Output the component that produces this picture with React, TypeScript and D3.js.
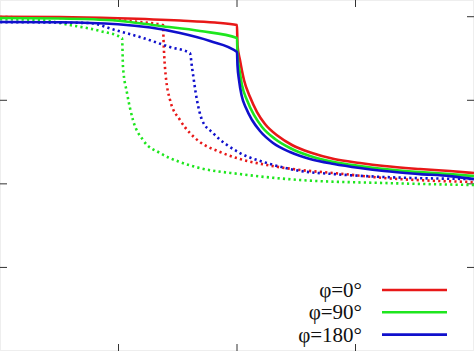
import React from 'react';
import * as d3 from 'd3';

// chart values (x in tick units, y in tick units)
const xTicks = [1, 2, 3];
const yTicks = [0, 1, 2, 3];

const redSolid: [number, number][] = [
  [0, 3.0], [0.506, 2.996], [0.996, 2.981], [1.519, 2.954], [1.814, 2.93], [2.0, 2.9],
  [2.004, 2.661], [2.025, 2.482], [2.059, 2.243], [2.11, 2.039], [2.169, 1.859], [2.236, 1.716],
  [2.346, 1.572], [2.464, 1.465], [2.633, 1.369], [2.819, 1.297], [3.038, 1.249], [3.241, 1.213],
  [3.544, 1.177], [3.797, 1.153], [4.0, 1.129],
];
const greenSolid: [number, number][] = [
  [0, 2.984], [0.506, 2.978], [0.996, 2.952], [1.35, 2.889], [1.688, 2.829], [2.0, 2.745],
  [2.004, 2.542], [2.021, 2.362], [2.042, 2.183], [2.084, 2.003], [2.143, 1.824], [2.211, 1.681],
  [2.321, 1.537], [2.447, 1.429], [2.616, 1.333], [2.819, 1.261], [3.038, 1.213], [3.241, 1.177],
  [3.544, 1.141], [3.797, 1.117], [4.0, 1.093],
];
const blueSolid: [number, number][] = [
  [0, 2.936], [0.506, 2.933], [0.996, 2.909], [1.519, 2.805], [1.772, 2.709], [2.0, 2.577],
  [2.004, 2.42], [2.017, 2.243], [2.038, 2.063], [2.076, 1.907], [2.127, 1.764], [2.194, 1.632],
  [2.304, 1.489], [2.447, 1.381], [2.616, 1.297], [2.819, 1.237], [3.038, 1.189], [3.241, 1.153],
  [3.544, 1.117], [3.797, 1.093], [4.0, 1.057],
];
const redDotted: [number, number][] = [
  [0, 2.996], [0.844, 2.972], [1.181, 2.936], [1.376, 2.9], [1.38, 2.721], [1.392, 2.398],
  [1.435, 2.003], [1.519, 1.764], [1.603, 1.608], [1.688, 1.5], [1.857, 1.381], [2.025, 1.297],
  [2.253, 1.225], [2.54, 1.165], [2.819, 1.129], [3.241, 1.07], [4.0, 1.022],
];
const greenDotted: [number, number][] = [
  [0, 2.972], [0.338, 2.96], [0.591, 2.9], [0.844, 2.829], [1.03, 2.745], [1.038, 2.398],
  [1.072, 2.087], [1.122, 1.764], [1.207, 1.525], [1.35, 1.369], [1.519, 1.261], [1.688, 1.189],
  [2.025, 1.117], [2.532, 1.046], [3.241, 1.01], [4.0, 0.986],
];
const blueDotted: [number, number][] = [
  [0, 2.936], [0.506, 2.93], [0.759, 2.924], [0.97, 2.841], [1.181, 2.757], [1.435, 2.637],
  [1.603, 2.565], [1.62, 2.398], [1.662, 2.003], [1.705, 1.764], [1.797, 1.608], [1.916, 1.465],
  [2.025, 1.369], [2.253, 1.249], [2.54, 1.153], [2.819, 1.117], [3.241, 1.082], [4.0, 1.058],
];

const legendLabels = ['\u03c6=0\u00b0', '\u03c6=90\u00b0', '\u03c6=180\u00b0'];
const colors = ['#e81818', '#1ee61e', '#1010cc'];

const W = 474;
const H = 351;
const serif = '"Liberation Serif", "Times New Roman", serif';

export default function App() {
  const x = d3.scaleLinear().domain([0, 4]).range([0, W]);
  const y = d3.scaleLinear().domain([-1, 3.2]).range([H, 0]);
  const line = d3
    .line<[number, number]>()
    .x((d) => x(d[0]))
    .y((d) => y(d[1]))
    .curve(d3.curveMonotoneX);

  const dotted = [redDotted, greenDotted, blueDotted];
  const solid = [redSolid, greenSolid, blueSolid];
  const tick = 7;

  return (
    <svg width={W} height={H} style={{ position: 'absolute', left: 0, top: 0, background: '#fff' }}>
      <rect x={0.5} y={0.5} width={W - 1} height={H - 1} fill="none" stroke="#eeeeee" />
      {/* ticks only, the labels are cropped away */}
      <g stroke="#333" strokeWidth={1}>
        {xTicks.map((t) => (
          <g key={'x' + t}>
            <line x1={x(t)} x2={x(t)} y1={0} y2={tick} />
            <line x1={x(t)} x2={x(t)} y1={H} y2={H - tick} />
          </g>
        ))}
        {yTicks.map((t) => (
          <g key={'y' + t}>
            <line x1={0} x2={tick} y1={y(t)} y2={y(t)} />
            <line x1={W} x2={W - tick} y1={y(t)} y2={y(t)} />
          </g>
        ))}
      </g>
      {dotted.map((d, i) => (
        <path
          key={'d' + i}
          d={line(d) || ''}
          fill="none"
          stroke={colors[i]}
          strokeWidth={2.6}
          strokeDasharray="2.2 3.2"
        />
      ))}
      {solid.map((d, i) => (
        <path key={'s' + i} d={line(d) || ''} fill="none" stroke={colors[i]} strokeWidth={2.6} />
      ))}
      {legendLabels.map((l, i) => (
        <g key={l} transform={`translate(0,${290 + i * 22.3})`}>
          <text x={362} y={7} textAnchor="end" fill="#111" style={{ fontFamily: serif, fontSize: '21px' }}>
            {l}
          </text>
          <line x1={382} x2={447} y1={0} y2={0} stroke={colors[i]} strokeWidth={2.6} />
        </g>
      ))}
    </svg>
  );
}
